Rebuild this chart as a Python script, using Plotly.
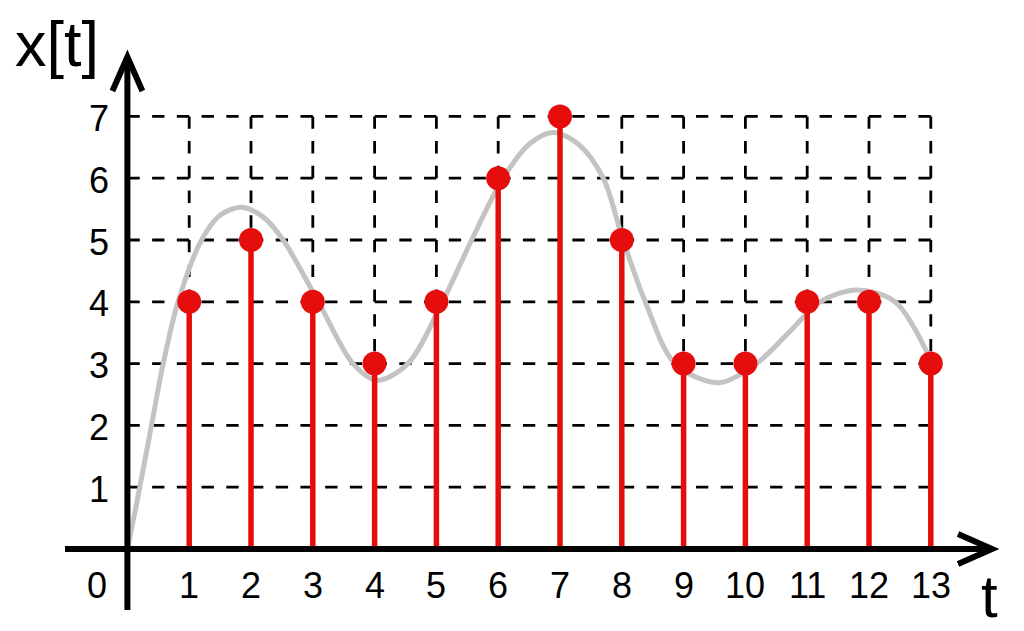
import plotly.graph_objects as go

# ---- data ----
t_samples = [1, 2, 3, 4, 5, 6, 7, 8, 9, 10, 11, 12, 13]
x_samples = [4, 5, 4, 3, 4, 6, 7, 5, 3, 3, 4, 4, 3]

# continuous signal
curve_t = [0, 0.107, 0.20, 0.39, 0.58, 0.82, 1.20, 1.50, 1.84, 2.20, 2.52,
           3.09, 3.65, 4.04, 4.54, 5.1, 5.57, 6.08, 6.50, 6.89, 7.30, 7.70,
           8.02, 8.38, 8.86, 9.56, 10.18, 10.70, 11.21, 11.8, 12.42, 13]
curve_x = [0, 0.52, 1.0, 2.0, 3.0, 4.0, 5.0, 5.40, 5.53, 5.37, 5.0,
           4.0, 3.0, 2.73, 3.0, 4.0, 5.0, 6.0, 6.55, 6.74, 6.55, 6.0,
           5.0, 4.0, 3.0, 2.69, 3.0, 3.5, 4.0, 4.19, 4.0, 3.05]

x_tick_vals = [0, 1, 2, 3, 4, 5, 6, 7, 8, 9, 10, 11, 12, 13]
x_tick_text = ["0", "1", "2", "3", "4", "5", "6", "7", "8", "9", "10", "11", "12", "13"]
y_tick_vals = [1, 2, 3, 4, 5, 6, 7]
y_tick_text = ["1", "2", "3", "4", "5", "6", "7"]

y_label = "x[t]"
x_label = "t"

# ---- layout constants (pixel geometry) ----
W, H = 1024, 631
PX = 61.8              # pixels per data unit
OX, OY = 127.4, 549.0  # pixel position of origin

def dx(px):  # pixel x -> data
    return (px - OX) / PX

def dy(py):  # pixel y -> data
    return (OY - py) / PX

x_range = [dx(0), dx(W)]
y_range = [dy(H), dy(0)]

RED = "#e60d0d"
GRAY = "#c3c3c3"
FONT = "Liberation Sans, Arial, sans-serif"

fig = go.Figure()

# continuous curve
fig.add_trace(go.Scatter(
    x=curve_t, y=curve_x, mode="lines",
    line=dict(color=GRAY, width=5, shape="spline", smoothing=0.9),
    hoverinfo="skip", showlegend=False,
))

# stems
stem_x, stem_y = [], []
for t, v in zip(t_samples, x_samples):
    stem_x += [t, t, None]
    stem_y += [0, v, None]
fig.add_trace(go.Scatter(
    x=stem_x, y=stem_y, mode="lines",
    line=dict(color=RED, width=5.5), hoverinfo="skip", showlegend=False,
))
# dots
fig.add_trace(go.Scatter(
    x=t_samples, y=x_samples, mode="markers",
    marker=dict(color=RED, size=24, line=dict(width=0)),
    showlegend=False,
))

shapes = []
dash = f"{PX*0.2:.2f}px,{PX*0.2:.2f}px"
tmax = max(t_samples)
ymax = max(y_tick_vals)
GW = 2.8
# horizontal dashed grid
for v in y_tick_vals:
    shapes.append(dict(type="line", xref="x", yref="y", x0=0, x1=tmax, y0=v, y1=v,
                       line=dict(color="black", width=GW, dash=dash), layer="below"))
# vertical dashed grid (drawn from top down)
for t in t_samples:
    shapes.append(dict(type="line", xref="x", yref="y", x0=t, x1=t, y0=ymax, y1=0,
                       line=dict(color="black", width=GW, dash=dash), layer="below"))

# axes with chevron arrowheads
AXW = 6
x_left, x_tip = dx(65), dx(992)
y_bot, y_tip = dy(610), dy(57)
shapes.append(dict(type="line", xref="x", yref="y", x0=x_left, x1=x_tip - 2 / PX, y0=0, y1=0,
                   line=dict(color="black", width=AXW), layer="above"))
shapes.append(dict(type="line", xref="x", yref="y", x0=0, x1=0, y0=y_bot, y1=y_tip - 2 / PX,
                   line=dict(color="black", width=AXW), layer="above"))
along, across = 34 / PX, 15 / PX
shapes.append(dict(type="path", xref="x", yref="y",
                   path=f"M {x_tip-along} {across} L {x_tip} 0 L {x_tip-along} {-across}",
                   line=dict(color="black", width=AXW), layer="above"))
shapes.append(dict(type="path", xref="x", yref="y",
                   path=f"M {-across} {y_tip-along} L 0 {y_tip} L {across} {y_tip-along}",
                   line=dict(color="black", width=AXW), layer="above"))

annotations = []
for t, s in zip(x_tick_vals, x_tick_text):
    xpos = t if t != 0 else dx(97)
    annotations.append(dict(x=xpos, y=dy(585), xref="x", yref="y", text=s, showarrow=False,
                            xanchor="center", yanchor="middle",
                            font=dict(family=FONT, size=36, color="black")))
for v, s in zip(y_tick_vals, y_tick_text):
    annotations.append(dict(x=dx(111), y=v - 2 / PX, xref="x", yref="y", text=s, showarrow=False,
                            xanchor="right", yanchor="middle",
                            font=dict(family=FONT, size=36, color="black")))
annotations.append(dict(x=dx(57), y=dy(44), xref="x", yref="y", text=y_label, showarrow=False,
                        xanchor="center", yanchor="middle",
                        font=dict(family=FONT, size=63, color="black")))
annotations.append(dict(x=dx(989), y=dy(596), xref="x", yref="y", text=x_label, showarrow=False,
                        xanchor="center", yanchor="middle",
                        font=dict(family=FONT, size=60, color="black")))

fig.update_layout(
    width=W, height=H,
    margin=dict(l=0, r=0, t=0, b=0),
    paper_bgcolor="white", plot_bgcolor="white",
    xaxis=dict(range=x_range, visible=False, fixedrange=True),
    yaxis=dict(range=y_range, visible=False, fixedrange=True),
    shapes=shapes, annotations=annotations,
    showlegend=False,
)

fig.write_html(
    "out.html",
    config={"displayModeBar": False},
    post_script="document.body.style.margin='0px';"
                "document.documentElement.style.overflow='hidden';",
)
